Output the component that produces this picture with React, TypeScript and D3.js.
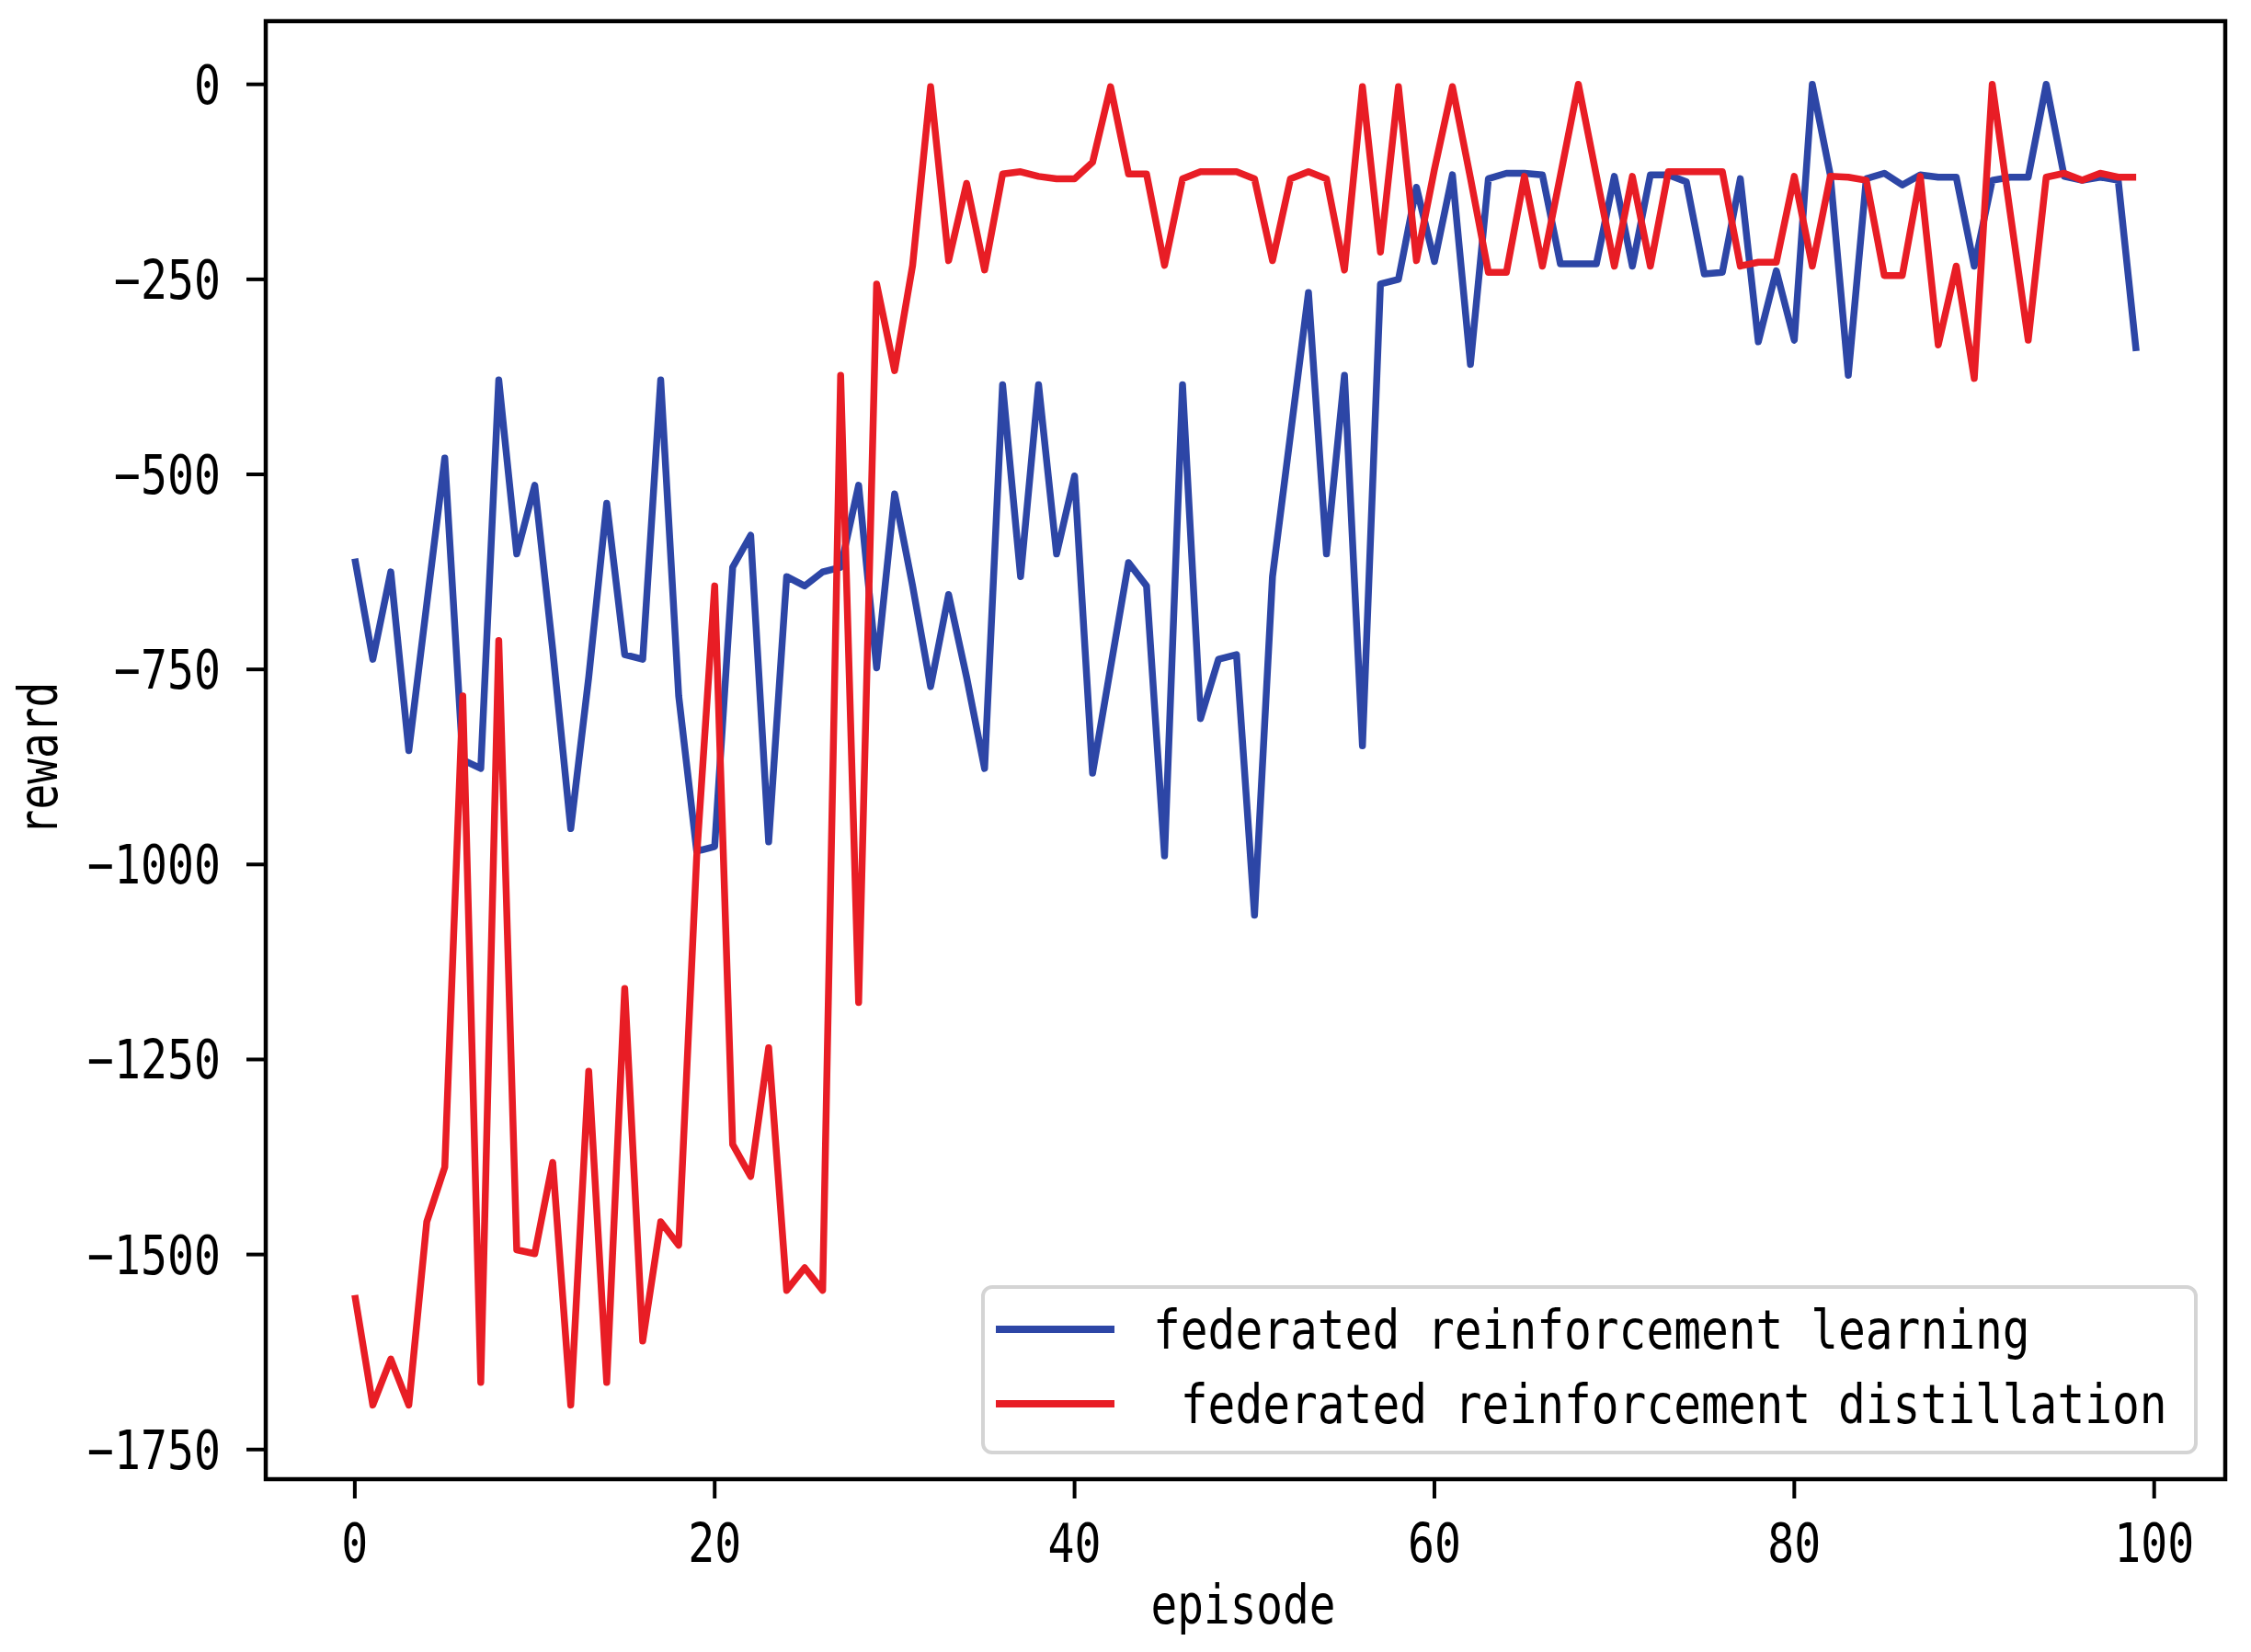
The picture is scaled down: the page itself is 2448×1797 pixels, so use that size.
import React from "react";
import * as d3 from "d3";

const episodes: number[] = Array.from({ length: 100 }, (_, i) => i);

const frlReward: number[] = [
  -608, -737, -625, -854, -666, -479, -866, -877, -379, -602,
  -514, -725, -954, -760, -537, -731, -737, -379, -784, -983,
  -977, -619, -578, -971, -631, -643, -625, -619, -514, -748,
  -525, -643, -772, -654, -760, -877, -385, -631, -385, -602,
  -502, -883, -748, -613, -643, -989, -385, -813, -737, -731,
  -1065, -631, -449, -267, -602, -373, -848, -256, -250, -132,
  -227, -116, -359, -121, -114, -114, -116, -230, -230, -230,
  -118, -233, -116, -116, -125, -243, -241, -121, -330, -239,
  -328, 0, -116, -373, -121, -114, -129, -116, -119, -119,
  -233, -123, -119, -119, 0, -118, -123, -119, -123, -342,
];

const frdReward: number[] = [
  -1552, -1693, -1634, -1693, -1458, -1388, -784, -1664, -713, -1494,
  -1499, -1382, -1693, -1265, -1664, -1159, -1611, -1458, -1488, -990,
  -643, -1359, -1400, -1235, -1546, -1517, -1546, -373, -1177, -256,
  -367, -232, -3, -226, -127, -238, -115, -112, -118, -121,
  -121, -100, -3, -115, -115, -232, -121, -112, -112, -112,
  -121, -226, -121, -112, -121, -238, -3, -215, -3, -226,
  -109, -3, -120, -241, -241, -118, -233, -117, 0, -117,
  -233, -118, -233, -112, -112, -112, -112, -233, -228, -228,
  -118, -233, -118, -119, -123, -245, -245, -118, -334, -233,
  -377, 0, -165, -328, -119, -114, -123, -114, -119, -119,
];

const xTicks: number[] = [0, 20, 40, 60, 80, 100];
const yTicks: number[] = [0, -250, -500, -750, -1000, -1250, -1500, -1750];
const seriesNames: string[] = [
  "federated reinforcement learning",
  " federated reinforcement distillation",
];
const seriesColors: string[] = ["#2d46a6", "#e81d25"];
const xLabel = "episode";
const yLabel = "reward";

const W = 2448;
const H = 1797;
const FS = 58;
const CH = 29; // character advance for half-width glyphs
const FONT = "'DejaVu Sans Mono', 'Liberation Mono', monospace";

const fmt = (v: number) => (v < 0 ? "\u2212" + Math.abs(v) : String(v));

function SqText(props: {
  x: number;
  y: number;
  text: string;
  anchor?: "start" | "middle" | "end";
  ch?: number;
  transform?: string;
}) {
  const ch = props.ch ?? CH;
  const len = props.text.length * ch;
  return (
    <text
      x={props.x}
      y={props.y}
      textAnchor={props.anchor ?? "start"}
      fontFamily={FONT}
      fontSize={FS}
      fill="#000"
      textLength={len}
      lengthAdjust="spacingAndGlyphs"
      transform={props.transform}
      style={{ whiteSpace: "pre" }}
    >
      {props.text}
    </text>
  );
}

export default function App() {
  const left = 289;
  const right = 2420;
  const top = 23;
  const bottom = 1609;

  const x = d3.scaleLinear().domain([-4.95, 103.95]).range([left, right]);
  const y = d3.scaleLinear().domain([-1788, 81]).range([bottom, top]);

  const line = d3
    .line<number>()
    .x((_, i) => x(episodes[i]))
    .y((d) => y(d));

  const series = [frlReward, frdReward];

  const legX0 = 1069;
  const legX1 = 2388;
  const legY0 = 1400;
  const legY1 = 1580;
  const rowY = [1446, 1527];
  const textX = [1254, 1254];
  const textBase = [1467, 1548];

  return (
    <svg
      width={W}
      height={H}
      viewBox={`0 0 ${W} ${H}`}
      style={{ position: "absolute", left: 0, top: 0, background: "#fff" }}
    >
      <rect x={0} y={0} width={W} height={H} fill="#fff" />
      <defs>
        <clipPath id="plotClip">
          <rect x={left} y={top} width={right - left} height={bottom - top} />
        </clipPath>
      </defs>

      <g clipPath="url(#plotClip)">
        {series.map((s, k) => (
          <path
            key={k}
            d={line(s) ?? ""}
            fill="none"
            stroke={seriesColors[k]}
            strokeWidth={7.5}
            strokeLinejoin="round"
            strokeLinecap="butt"
          />
        ))}
      </g>

      {/* spines */}
      <rect
        x={left}
        y={top}
        width={right - left}
        height={bottom - top}
        fill="none"
        stroke="#000"
        strokeWidth={4.5}
      />

      {/* x ticks */}
      {xTicks.map((t) => (
        <g key={"x" + t}>
          <line x1={x(t)} x2={x(t)} y1={bottom} y2={bottom + 21} stroke="#000" strokeWidth={4} />
          <SqText x={x(t)} y={1699} text={fmt(t)} anchor="middle" />
        </g>
      ))}

      {/* y ticks */}
      {yTicks.map((t) => (
        <g key={"y" + t}>
          <line x1={left - 21} x2={left} y1={y(t)} y2={y(t)} stroke="#000" strokeWidth={4} />
          <SqText x={240} y={y(t) + 21} text={fmt(t)} anchor="end" />
        </g>
      ))}

      {/* axis labels */}
      <SqText x={1352} y={1766} text={xLabel} anchor="middle" ch={28.7} />
      <SqText
        x={0}
        y={0}
        text={yLabel}
        anchor="middle"
        ch={27.8}
        transform={`translate(62, 825) rotate(-90)`}
      />

      {/* legend */}
      <rect
        x={legX0}
        y={legY0}
        width={legX1 - legX0}
        height={legY1 - legY0}
        rx={10}
        ry={10}
        fill="#fff"
        fillOpacity={0.8}
        stroke="#d4d4d4"
        strokeWidth={4}
      />
      {seriesNames.map((name, k) => (
        <g key={"leg" + k}>
          <line
            x1={1083}
            x2={1212}
            y1={rowY[k]}
            y2={rowY[k]}
            stroke={seriesColors[k]}
            strokeWidth={8}
          />
          <SqText x={textX[k]} y={textBase[k]} text={name} ch={29.8} />
        </g>
      ))}
    </svg>
  );
}
